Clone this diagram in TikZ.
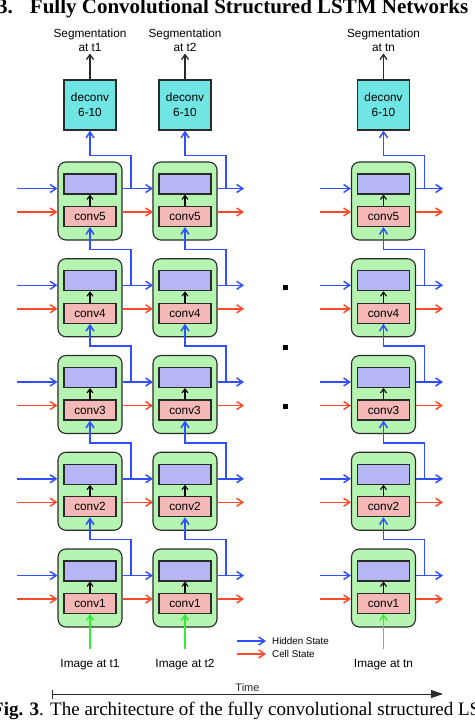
\documentclass[tikz,border=0pt]{standalone}
\usepackage{fontspec}
\setmainfont{Liberation Serif}
\setsansfont{Liberation Sans}
\usetikzlibrary{arrows.meta, positioning, calc}

\definecolor{lstmgreen}{HTML}{B6F4B2}
\definecolor{gatepurple}{HTML}{B6B6F4}
\definecolor{convpink}{HTML}{F4B8B6}
\definecolor{deconvcyan}{HTML}{6FE6E4}
\definecolor{hiddenblue}{HTML}{3050FF}
\definecolor{cellred}{HTML}{FF4A2A}
\definecolor{imagegreen}{HTML}{35EC35}
\definecolor{boxline}{HTML}{2A2A2A}

\begin{document}
\begin{tikzpicture}[
			x=1pt, y=-1pt,
			font=\sffamily\fontsize{11.8}{14.5}\selectfont,
			lstmcell/.style={draw=boxline, line width=1.1pt, fill=lstmgreen, rounded corners=8pt, minimum width=64pt, minimum height=78pt, inner sep=0pt},
			gatebox/.style={draw=boxline, line width=1.1pt, fill=gatepurple, minimum width=52pt, minimum height=20pt, inner sep=0pt},
			convbox/.style={draw=boxline, line width=1.1pt, fill=convpink, minimum width=52pt, minimum height=20pt, inner sep=0pt},
			deconvbox/.style={draw=boxline, line width=1.1pt, fill=deconvcyan, minimum width=52pt, minimum height=50pt, inner sep=0pt, align=center},
			hiddenflow/.style={hiddenblue, line width=1.5pt, -{Straight Barb[length=6pt, width=8pt]}},
			cellflow/.style={cellred, line width=1.5pt, -{Straight Barb[length=6pt, width=8pt]}},
			upflow/.style={black, line width=1.1pt, -{Straight Barb[length=4pt, width=6pt]}},
			imageflow/.style={imagegreen, line width=1.4pt, -{Straight Barb[length=5pt, width=7pt]}},
			segflow/.style={boxline, line width=1.3pt, -{Straight Barb[length=5pt, width=7pt]}},
			lbl/.style={align=center, inner sep=0pt},
			legendtext/.style={inner sep=0pt, font=\sffamily\fontsize{9.8}{12}\selectfont},
			dotmark/.style={fill=black, minimum size=5pt, inner sep=0pt},
			timeaxis/.style={boxline, line width=1pt, {Bar[width=9pt]}-{Triangle[length=12pt, width=8pt]}}
			]
			\useasboundingbox (0,0) rectangle (474,720);
			\clip (0,0) rectangle (474,720);
			\node[anchor=base west, inner sep=0pt, font=\rmfamily\bfseries\fontsize{21}{21}\selectfont] (title) at (-3,13) {3.\hspace{17pt}Fully Convolutional Structured LSTM Networks};
			\foreach \c/\x/\xin/\xout/\tm in {1/90/17/153/t1, 2/185/153/244/t2, 3/383.5/320/443/tn} {
				\node[deconvbox] (deconv-\c) at (\x,105) {deconv\\6-10};
				\node[lbl, above=26pt of deconv-\c, inner sep=1.5pt] (seg-\c) {Segmentation\\at \tm};
				\draw[segflow] (deconv-\c) -- (seg-\c);
				\foreach \r in {1,...,5} {
					\pgfmathsetmacro\ytop{549-(\r-1)*96.75}
					\node[lstmcell] (cell-\c-\r) at (\x,\ytop+39) {};
					\node[gatebox] (gate-\c-\r) at (\x,\ytop+22) {};
					\node[convbox] (conv-\c-\r) at (\x,\ytop+54.5) {conv\r};
					\coordinate (hin-\c-\r) at (\xin,\ytop+26.5);
					\coordinate (sin-\c-\r) at (\xin,\ytop+50);
					\coordinate (hout-\c-\r) at (\xout,\ytop+26.5);
					\coordinate (sout-\c-\r) at (\xout,\ytop+50);
					\draw[upflow] (conv-\c-\r) -- (gate-\c-\r);
					\ifnum\c=2\else
						\draw[hiddenflow] (hin-\c-\r) -- (hin-\c-\r -| cell-\c-\r.west);
						\draw[cellflow] (sin-\c-\r) -- (sin-\c-\r -| cell-\c-\r.west);
					\fi
					\draw[hiddenflow] (hout-\c-\r -| cell-\c-\r.east) -- (hout-\c-\r);
					\draw[cellflow] (sout-\c-\r -| cell-\c-\r.east) -- (sout-\c-\r);
				}
				% hidden state goes up to the next layer
				\foreach \r/\n in {1/2, 2/3, 3/4, 4/5}
					\draw[hiddenflow] ($(hout-\c-\r -| cell-\c-\r.east)+(8.5,0)$) |- ($(cell-\c-\r.north)!.5!(cell-\c-\n.south)$) -- (conv-\c-\n);
				\draw[hiddenflow] ($(hout-\c-5 -| cell-\c-5.east)+(8.5,0)$) |- ($(deconv-\c.south)+(0,25)$) -- (deconv-\c);
				\node[lbl, anchor=base] (img-\c) at (\x,667) {Image at \tm};
				\draw[imageflow] ($(img-\c.north)+(0,-10)$) -- (conv-\c-1);
			}
			\foreach \i/\y in {1/287, 2/347, 3/406}
				\node[dotmark] (dot-\i) at (285,\y) {};
			% legend
			\node[legendtext, anchor=west] (leg-hidden) at (272,641) {Hidden State};
			\node[legendtext, anchor=west] (leg-cell) at (272,654) {Cell State};
			\coordinate (leg-h0) at (237,641);
			\coordinate (leg-c0) at (237,654);
			\draw[hiddenflow] (leg-h0) -- ($(leg-hidden.west)+(-6,0)$);
			\draw[cellflow] (leg-c0) -- ($(leg-cell.west)+(-6,0)$);
			\coordinate (time-start) at (52,694);
			\coordinate (time-end) at (443,694);
			\draw[timeaxis] (time-start) -- node[above, inner sep=1.5pt, font=\sffamily\fontsize{11}{11}\selectfont] (time) {Time} (time-end);
			\node[anchor=base west, inner sep=0pt, font=\rmfamily\fontsize{19}{19}\selectfont] (caption) at (-8,715) {\textbf{Fig. 3}. The architecture of the fully convolutional structured LSTM};
		\end{tikzpicture}
\end{document}
